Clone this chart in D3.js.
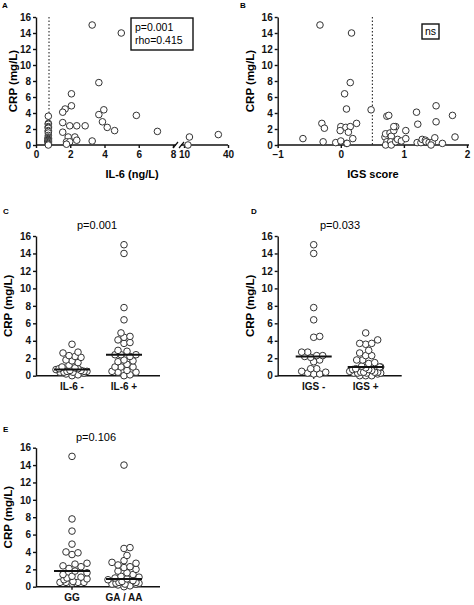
<!DOCTYPE html>
<html><head><meta charset="utf-8">
<script src="https://cdn.jsdelivr.net/npm/d3@7"></script>
<style>
body{margin:0;background:#fff;font-family:"Liberation Sans",Arial,sans-serif}
.axis text{font-weight:bold;font-size:10px;font-family:"Liberation Sans",Arial,sans-serif;fill:#111}
.axis path,.axis line{stroke:#111;stroke-width:1.4}
</style></head><body>
<svg id="chart" width="474" height="605"></svg>
<script>
const yTicks = [0, 2, 4, 6, 8, 10, 12, 14, 16];

// panel A: IL-6 (ng/L) vs CRP (mg/L)
const aIL6 = [3.28, 4.98, 3.67, 2.07, 2.07, 1.7, 1.56, 3.96, 3.67, 5.86, 1.56, 3.88, 4.16, 4.59, 7.09, 1.56, 1.97, 2.38, 2.87, 1.88, 2.27, 1.78, 1.97, 2.38, 3.28, 1.78, 13.7, 12.7, 33.4];
const aCRP = [15, 14, 7.8, 6.4, 4.9, 4.5, 4.1, 4.4, 3.8, 3.7, 2.8, 2.9, 2.2, 1.8, 1.7, 1.6, 2.4, 2.4, 2.4, 1.0, 1.0, 0.4, 0.4, 0.6, 0.5, 0.1, 1.0, 0, 1.3];
const aNegCRP = [3.6, 2.7, 2.6, 2.3, 2.2, 2.1, 1.8, 1.7, 1.5, 1.2, 1.0, 0.9, 0.8, 0.8, 0.7, 0.6, 0.6, 0.5, 0.5, 0.5, 0.4, 0.4, 0.4, 0.3, 0.2, 0.1, 0];
const aNegIL6 = 0.72;
const aCutoff = 0.76;
const aTicks1 = [0, 2, 4, 6, 8];
const aTicks2 = [10, 40];

// panel B: IGS score vs CRP
const bIGS = [-0.33, 0.17, 0.15, 0.06, 0.09, 0.48, -0.6, -0.3, -0.26, -0.28, -0.08, 0.0, 0.08, -0.01, 0.15, 0.12, 0.0, 0.09, 0.1, 0.19, 0.25,
  0.70, 0.71, 0.73, 0.71, 0.73, 0.76, 0.78, 0.80, 0.79, 0.80, 0.84, 0.87, 0.84, 0.87, 0.90, 0.96, 1.03, 1.03, 1.20, 1.22, 1.21, 1.27, 1.29, 1.34, 1.35, 1.40, 1.45, 1.43, 1.49, 1.51, 1.51, 1.61, 1.77, 1.81];
const bCRP = [15, 14, 7.8, 6.4, 4.5, 4.4, 0.8, 2.7, 2.1, 0.4, 0.3, 2.3, 2.2, 1.8, 2.3, 1.6, 0.5, 0.2, 0.2, 0.8, 2.7,
  1.0, 1.4, 0.4, 0, 3.6, 3.7, 1.5, 1.1, 0.4, 0, 1.8, 2.3, 2.3, 0.4, 0.7, 0.5, 0.8, 1.8, 4.1, 2.6, 0.3, 0.3, 0.7, 0.6, 0.4, 0.3, 0.3, 0, 0.9, 2.9, 4.9, 0.2, 3.7, 1.0];
const bCutoff = 0.5;
const bTicks = [-1, 0, 1, 2];

// panels C-E: group scatter
const cGroups = ["IL-6 -", "IL-6 +"];
const cMedians = [0.7, 2.4];
const dGroups = ["IGS -", "IGS +"];
const dMedians = [2.2, 1.0];
const eGroups = ["GG", "GA / AA"];
const eMedians = [1.8, 0.9];
const eGG = [15, 7.8, 6.4, 4.9, 4.0, 3.9, 3.7, 2.7, 2.6, 2.4, 2.3, 2.1, 1.8, 1.6, 1.4, 1.2, 1.1, 1.0, 0.9, 0.8, 0.6, 0.5, 0.5, 0.5, 0.5, 0.4];
const eGA = [14, 4.5, 4.4, 3.6, 3.0, 2.8, 2.7, 2.5, 2.3, 2.2, 2.0, 1.8, 1.6, 1.4, 1.2, 1.1, 1.0, 0.9, 0.8, 0.7, 0.6, 0.5, 0.5, 0.4, 0.4, 0.3, 0.3, 0.3, 0.2, 0.1, 0];

const svg = d3.select("#chart");
const R = 3.3;

function circles(g, pts) {
  g.selectAll("circle.p").data(pts).enter().append("circle")
    .attr("class", "p")
    .attr("cx", d => d[0]).attr("cy", d => d[1]).attr("r", R)
    .attr("fill", "#fff").attr("stroke", "#333").attr("stroke-width", 1);
}

function yAxis(g, x0, top, bottom) {
  const y = d3.scaleLinear().domain([0, 16]).range([bottom, top]);
  g.append("g").attr("class", "axis").attr("transform", "translate(" + x0 + ",0)")
    .call(d3.axisLeft(y).tickValues(yTicks).tickSize(3).tickSizeOuter(0).tickPadding(2));
  return y;
}

function label(txt, x, y) {
  svg.append("text").attr("x", x).attr("y", y).attr("font-size", 8).attr("font-weight", "bold").text(txt);
}

function yTitle(x, cy) {
  svg.append("text").attr("transform", "translate(" + x + "," + cy + ") rotate(-90)")
    .attr("text-anchor", "middle").attr("font-size", 11.5).attr("font-weight", "bold").text("CRP (mg/L)");
}

// ---------- A ----------
label("A", 2, 8);
yTitle(17, 81);
const yA = yAxis(svg, 36, 17, 145);
const xA1 = d3.scaleLinear().domain([0, 8]).range([36, 173]);
const xA2 = d3.scaleLinear().domain([10, 40]).range([184, 228]);
const xA = v => v <= 8 ? xA1(v) : xA2(v);
const ga1 = svg.append("g").attr("class", "axis").attr("transform", "translate(0,145)")
  .call(d3.axisBottom(xA1).tickValues(aTicks1).tickSize(3).tickSizeOuter(0));
ga1.select(".domain").attr("d", "M36,0H176");
const ga2 = svg.append("g").attr("class", "axis").attr("transform", "translate(0,145)")
  .call(d3.axisBottom(xA2).tickValues(aTicks2).tickSize(3).tickSizeOuter(0));
ga2.select(".domain").attr("d", "M181,0H228");
svg.append("path").attr("d", "M173,148L178,142M179,148L184,142").attr("stroke", "#111").attr("stroke-width", 1.2);
svg.append("line").attr("x1", xA(aCutoff)).attr("x2", xA(aCutoff)).attr("y1", 17).attr("y2", 145)
  .attr("stroke", "#111").attr("stroke-dasharray", "1.5,2");
circles(svg.append("g"), aIL6.map((v, i) => [xA(v), yA(aCRP[i])]).concat(aNegCRP.map(c => [xA(aNegIL6), yA(c)])));
svg.append("text").attr("x", 132).attr("y", 178).attr("text-anchor", "middle")
  .attr("font-size", 11).attr("font-weight", "bold").text("IL-6 (ng/L)");
svg.append("rect").attr("x", 131).attr("y", 18).attr("width", 62).attr("height", 32)
  .attr("fill", "none").attr("stroke", "#111").attr("stroke-width", 1.4);
svg.append("text").attr("x", 135).attr("y", 31).attr("font-size", 10.5).text("p=0.001");
svg.append("text").attr("x", 135).attr("y", 44).attr("font-size", 10.5).text("rho=0.415");

// ---------- B ----------
label("B", 240, 8);
yTitle(254, 81);
const yB = yAxis(svg, 277.7, 17, 145);
const xB = d3.scaleLinear().domain([-1, 2]).range([277.7, 467]);
const gb = svg.append("g").attr("class", "axis").attr("transform", "translate(0,145)")
  .call(d3.axisBottom(xB).tickValues(bTicks).tickFormat(d3.format("d")).tickSize(3).tickSizeOuter(0));
gb.select(".domain").attr("d", "M277.7,0H469");
svg.append("line").attr("x1", xB(bCutoff)).attr("x2", xB(bCutoff)).attr("y1", 17).attr("y2", 145)
  .attr("stroke", "#111").attr("stroke-dasharray", "1.5,2");
circles(svg.append("g"), bIGS.map((v, i) => [xB(v), yB(bCRP[i])]));
svg.append("text").attr("x", 373).attr("y", 178).attr("text-anchor", "middle")
  .attr("font-size", 11).attr("font-weight", "bold").text("IGS score");
svg.append("rect").attr("x", 422).attr("y", 24).attr("width", 17).attr("height", 15)
  .attr("fill", "none").attr("stroke", "#111").attr("stroke-width", 1.4);
svg.append("text").attr("x", 430.5).attr("y", 35).attr("text-anchor", "middle").attr("font-size", 10.5).text("ns");

// ---------- swarm panels ----------
function swarm(vals, cx, y) {
  const placed = [];
  const sorted = vals.slice().sort((a, b) => a - b);
  sorted.forEach(v => {
    const py = y(v);
    let best = null;
    for (let k = 0; k < 30; k++) {
      const off = (k % 2 ? 1 : -1) * Math.ceil(k / 2) * 3;
      const px = cx + off;
      if (Math.abs(off) > 17) break;
      if (placed.every(p => (p[0] - px) ** 2 + (p[1] - py) ** 2 >= (1.6 * R) ** 2)) { best = [px, py]; break; }
    }
    if (!best) best = [cx + (placed.length % 2 ? 1 : -1) * ((placed.length * 7) % 17), py];
    placed.push(best);
  });
  return placed;
}

function groupPanel(letter, lx, ly, x0, top, bottom, groups, data, medians, pTxt, titleX, yT) {
  label(letter, lx, ly);
  yTitle(yT, (top + bottom) / 2);
  const y = yAxis(svg, x0, top, bottom);
  const x = d3.scaleBand().domain(groups).range([x0 + 10, x0 + 114]);
  const g = svg.append("g").attr("class", "axis").attr("transform", "translate(0," + bottom + ")")
    .call(d3.axisBottom(x).tickSize(3).tickSizeOuter(0).tickPadding(4));
  g.select(".domain").attr("d", "M" + x0 + ",0H" + (x0 + 124));
  g.selectAll("text").attr("font-size", 10.5);
  groups.forEach((grp, i) => {
    const cx = x(grp) + x.bandwidth() / 2;
    circles(svg.append("g"), swarm(data[i], cx, y));
    svg.append("line").attr("x1", cx - 18).attr("x2", cx + 18).attr("y1", y(medians[i])).attr("y2", y(medians[i]))
      .attr("stroke", "#111").attr("stroke-width", 2);
  });
  svg.append("text").attr("x", titleX).attr("y", top - 7).attr("text-anchor", "middle").attr("font-size", 11).text(pTxt);
}

const ilPos = aIL6.map((v, i) => aCRP[i]);
const igsNeg = bCRP.filter((c, i) => bIGS[i] < bCutoff);
const igsPos = bCRP.filter((c, i) => bIGS[i] >= bCutoff);

groupPanel("C", 3, 214, 36, 236, 375.7, cGroups, [aNegCRP, ilPos], cMedians, "p=0.001", 97, 12);
groupPanel("D", 251, 214, 277.7, 236, 375.7, dGroups, [igsNeg, igsPos], dMedians, "p=0.033", 340, 254);
groupPanel("E", 3, 432, 36, 447.7, 586.7, eGroups, [eGG, eGA], eMedians, "p=0.106", 96, 12);
</script></body></html>
